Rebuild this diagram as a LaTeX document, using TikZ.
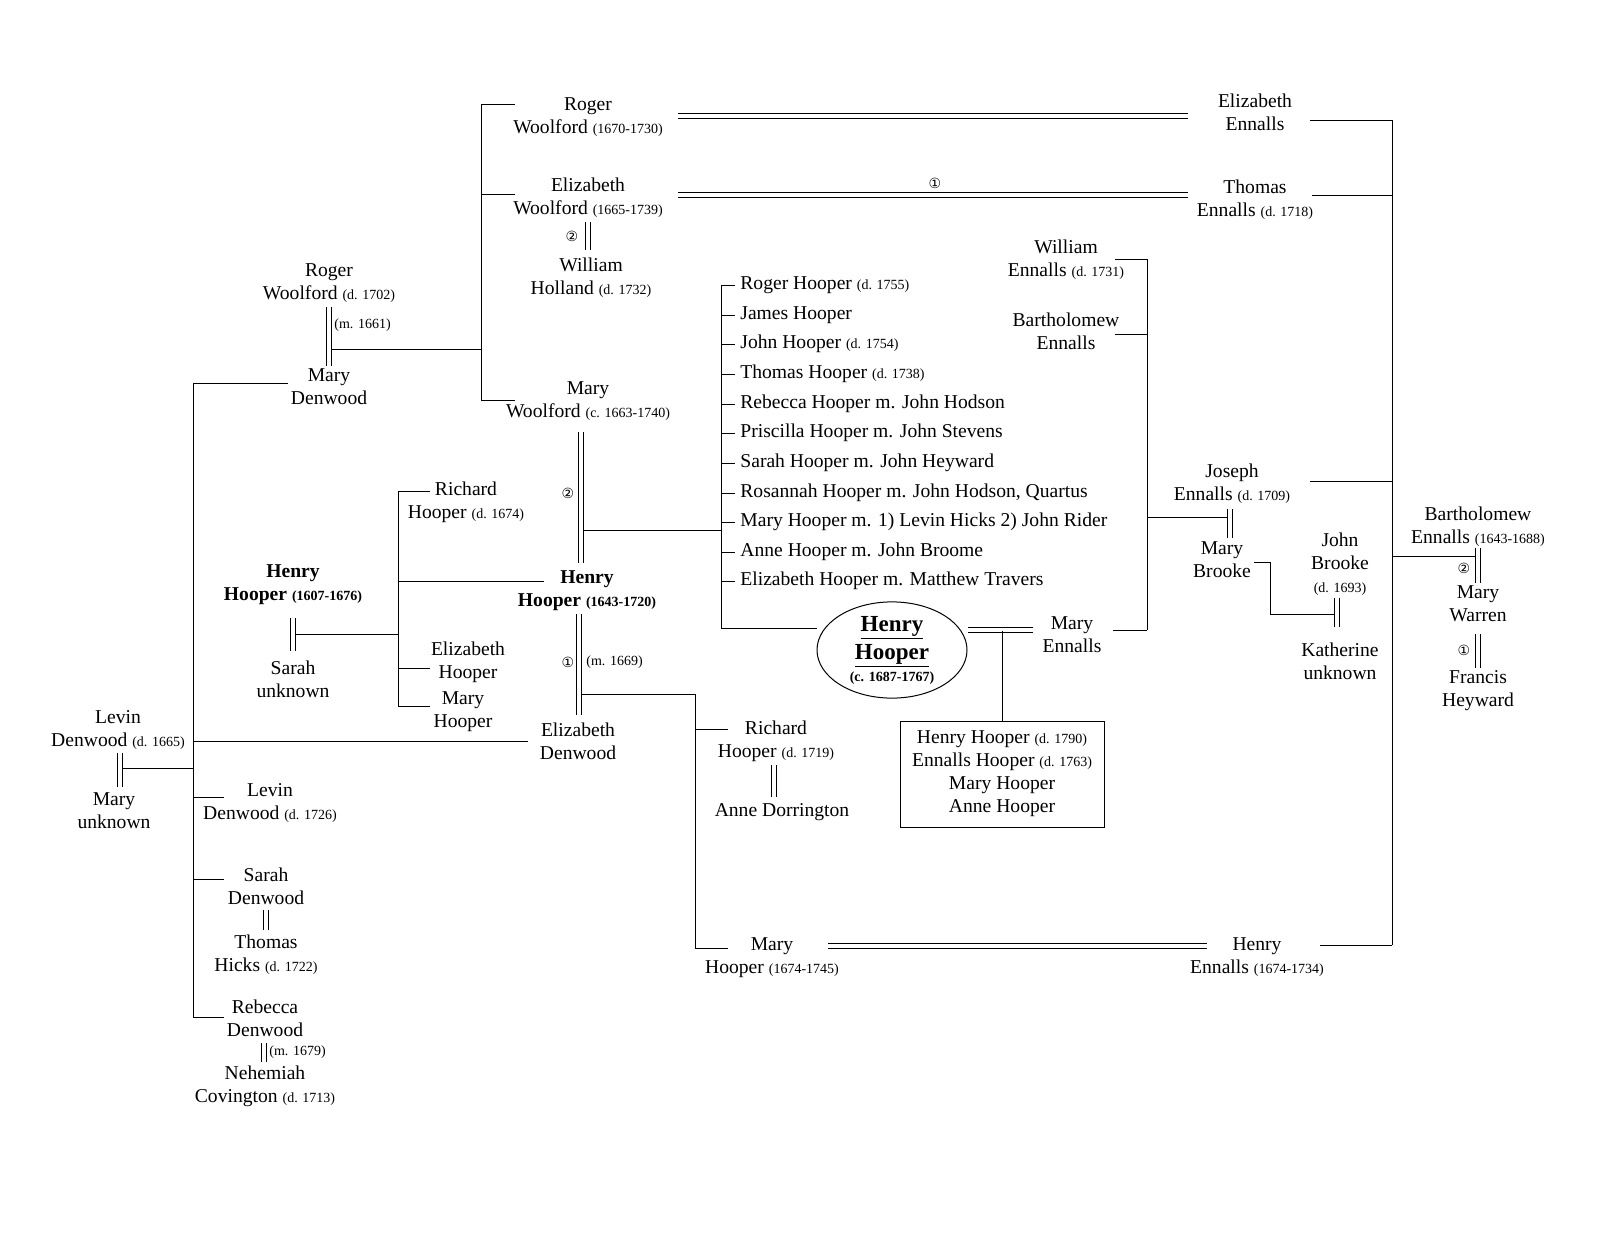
\documentclass[tikz,border=0pt]{standalone}
\usepackage{fontspec}
\setmainfont{Liberation Serif}
\newfontfamily\circfont{DejaVu Sans}
\usetikzlibrary{shapes.geometric}
\newcommand{\fs}{\fontsize{9.8}{11.5}\selectfont}
\newcommand{\dd}[1]{{\fontsize{7}{8}\selectfont #1}}
\newcommand{\cone}{{\circfont\fontsize{7}{8}\selectfont ①}}
\newcommand{\ctwo}{{\circfont\fontsize{7}{8}\selectfont ②}}
\tikzset{
  pn/.style={align=center, inner sep=0pt, font=\fs},
  kid/.style={anchor=west, inner sep=0pt, font=\fs},
  tie/.style={line width=0.5pt},
  marr/.style={double, double distance=1.8pt, line width=0.5pt},
  note/.style={inner sep=0pt, font=\fs}
}
\begin{document}
\begin{tikzpicture}[x=0.5pt, y=-0.5pt]
	\useasboundingbox (0,0) rectangle (1600,1237);
	% Woolford
	\node[pn] (rogerw2) at (588,117) {Roger\\Woolford \dd{(1670-1730)}};
	\node[pn] (elizw) at (588,198) {Elizabeth\\Woolford \dd{(1665-1739)}};
	\node[pn] (wholland) at (591,278) {William\\Holland \dd{(d. 1732)}};
	\node[pn] (rogerw) at (329,283) {Roger\\Woolford \dd{(d. 1702)}};
	\node[pn] (maryden) at (329,387) {Mary\\Denwood};
	\node[pn] (maryw) at (588,401) {Mary\\Woolford \dd{(c. 1663-1740)}};
	% Ennalls
	\node[pn] (elize) at (1255,112) {Elizabeth\\Ennalls};
	\node[pn] (thomase) at (1255,200) {Thomas\\Ennalls \dd{(d. 1718)}};
	\node[pn] (williame) at (1066,260) {William\\Ennalls \dd{(d. 1731)}};
	\node[pn] (barthe) at (1066,331) {Bartholomew\\Ennalls};
	\node[pn] (josephe) at (1232,484) {Joseph\\Ennalls \dd{(d. 1709)}};
	\node[pn] (maryb) at (1222,560) {Mary\\Brooke};
	\node[pn] (johnb) at (1340,564) {John\\Brooke\\\dd{(d. 1693)}};
	\node[pn] (kathu) at (1340,661) {Katherine\\unknown};
	\node[pn] (barthe2) at (1478,527) {Bartholomew\\Ennalls \dd{(1643-1688)}};
	\node[pn] (marywar) at (1478,604) {Mary\\Warren};
	\node[pn] (francish) at (1478,691) {Francis\\Heyward};
	\node[pn] (marye) at (1072,635) {Mary\\Ennalls};
	\node[pn] (henrye) at (1257,957) {Henry\\Ennalls \dd{(1674-1734)}};
	% Henry Hooper
	\node[ellipse, draw, tie, minimum width=75pt, minimum height=42pt, inner sep=0pt, align=center,
	  font=\fontsize{11.5}{14}\selectfont\bfseries] (hh) at (892,650)
	  {\underline{Henry}\\\underline{Hooper}\\[-3pt]\dd{\bfseries (c. 1687-1767)}};
	\node[draw, tie, pn, minimum width=102pt, minimum height=53pt] (kids) at (1002,774)
	  {Henry Hooper \dd{(d. 1790)}\\Ennalls Hooper \dd{(d. 1763)}\\Mary Hooper\\Anne Hooper};
	% Hooper
	\node[pn] (richardh) at (466,502) {Richard\\Hooper \dd{(d. 1674)}};
	\node[pn, font=\fs\bfseries] (henryh1) at (293,585) {Henry\\Hooper \dd{(1607-1676)}};
	\node[pn] (sarahu) at (293,679) {Sarah\\unknown};
	\node[pn, font=\fs\bfseries] (henryh2) at (587,591) {Henry\\Hooper \dd{(1643-1720)}};
	\node[pn] (elizh) at (468,662) {Elizabeth\\Hooper};
	\node[pn] (maryh) at (463,712) {Mary\\Hooper};
	\node[pn] (elizd) at (578,741) {Elizabeth\\Denwood};
	\node[pn] (richardh2) at (776,741) {Richard\\Hooper \dd{(d. 1719)}};
	\node[pn] (anned) at (782,812) {Anne Dorrington};
	\node[pn] (maryh2) at (772,958) {Mary\\Hooper \dd{(1674-1745)}};
	% Denwood
	\node[pn] (levind) at (118,730) {Levin\\Denwood \dd{(d. 1665)}};
	\node[pn] (maryu) at (114,811) {Mary\\unknown};
	\node[pn] (levind2) at (270,803) {Levin\\Denwood \dd{(d. 1726)}};
	\node[pn] (sarahd) at (266,886) {Sarah\\Denwood};
	\node[pn] (thomashi) at (266,955) {Thomas\\Hicks \dd{(d. 1722)}};
	\node[pn] (rebeccad) at (265,1018) {Rebecca\\Denwood};
	\node[pn] (nehemiah) at (265,1086) {Nehemiah\\Covington \dd{(d. 1713)}};
	% children of Henry and Mary
	\foreach \y/\name [count=\i] in {285/Roger Hooper \dd{(d. 1755)}, 315/James Hooper,
	  344/John Hooper \dd{(d. 1754)}, 374/Thomas Hooper \dd{(d. 1738)},
	  404/Rebecca Hooper m. John Hodson, 433/Priscilla Hooper m. John Stevens,
	  463/Sarah Hooper m. John Heyward, 493/{Rosannah Hooper m. John Hodson, Quartus},
	  522/Mary Hooper m. 1) Levin Hicks 2) John Rider, 552/Anne Hooper m. John Broome,
	  581/Elizabeth Hooper m. Matthew Travers}
	{
		\node[kid] (c\i) at (740,\y) {\name};
		\draw[tie] (721,\y) -- ++(14,0);
	}
	\draw[tie] (721,285) -- (721,628) -- (hh.west |- 0,628);

	% Woolford lines
	\draw[marr] (329,307) -- (329,366);
	\node[note, anchor=west] at (334,325) {\dd{(m. 1661)}};
	\draw[tie] (481,104) -- (515,104);
	\draw[tie] (481,194) -- (515,194);
	\draw[tie] (481,400) -- (515,400);
	\draw[tie] (481,104) -- (481,400);
	\draw[tie] (331,349) -- (481,349);
	\draw[marr] (678,116) -- (1188,116);
	\draw[marr] (678,195) -- (1188,195);
	\node[note] at (935,183) {\cone};
	\draw[marr] (588,222) -- (588,250);
	\node[note] at (572,236) {\ctwo};

	% Ennalls lines
	\draw[tie] (1392,120) -- (1392,945);
	\draw[tie] (1310,120) -- (1392,120);
	\draw[tie] (1312,195) -- (1392,195);
	\draw[tie] (1310,481) -- (1392,481);
	\draw[tie] (1320,945) -- (1392,945);
	\draw[tie] (1392,556) -- (1477,556);
	\draw[marr] (1478,548) -- (1478,583);
	\node[note] at (1464,568) {\ctwo};
	\draw[marr] (1478,634) -- (1478,668);
	\node[note] at (1464,650) {\cone};
	\draw[tie] (1147,259) -- (1147,630);
	\draw[tie] (1115,259) -- (1147,259);
	\draw[tie] (1115,334) -- (1147,334);
	\draw[tie] (1113,630) -- (1147,630);
	\draw[tie] (1147,517) -- (1229,517);
	\draw[marr] (1230,509) -- (1230,538);
	\draw[tie] (1254,562) -- (1270,562) -- (1270,614) -- (1336,614);
	\draw[marr] (1337,598) -- (1337,627);

	% Hooper lines
	\draw[marr] (581,432) -- (581,563);
	\node[note] at (568,493) {\ctwo};
	\draw[tie] (583,530) -- (721,530);
	\draw[marr] (579,614) -- (579,715);
	\node[note] at (568,662) {\cone};
	\node[note, anchor=west] at (586,662) {\dd{(m. 1669)}};
	\draw[tie] (581,694) -- (695,694) -- (695,948) -- (728,948);
	\draw[tie] (695,729) -- (728,729);
	\draw[marr] (774,765) -- (774,797);
	\draw[marr] (828,946) -- (1207,946);
	\draw[marr] (968,630) -- (1033,630);
	\draw[tie] (1002,631) -- (kids.north);
	\draw[tie] (398,491) -- (398,706);
	\draw[tie] (398,491) -- (430,491);
	\draw[tie] (398,581) -- (544,581);
	\draw[tie] (398,668) -- (430,668);
	\draw[tie] (398,706) -- (430,706);
	\draw[tie] (295,634) -- (398,634);
	\draw[marr] (293,618) -- (293,651);

	% Denwood lines
	\draw[tie] (193,383) -- (193,1017);
	\draw[tie] (193,383) -- (288,383);
	\draw[tie] (193,741) -- (528,741);
	\draw[tie] (193,797) -- (224,797);
	\draw[tie] (193,879) -- (224,879);
	\draw[tie] (193,1017) -- (224,1017);
	\draw[tie] (122,768) -- (193,768);
	\draw[marr] (120,753) -- (120,787);
	\draw[marr] (266,910) -- (266,930);
	\draw[marr] (264,1043) -- (264,1062);
	\node[note, anchor=west] at (269,1052) {\dd{(m. 1679)}};
\end{tikzpicture}
\end{document}
